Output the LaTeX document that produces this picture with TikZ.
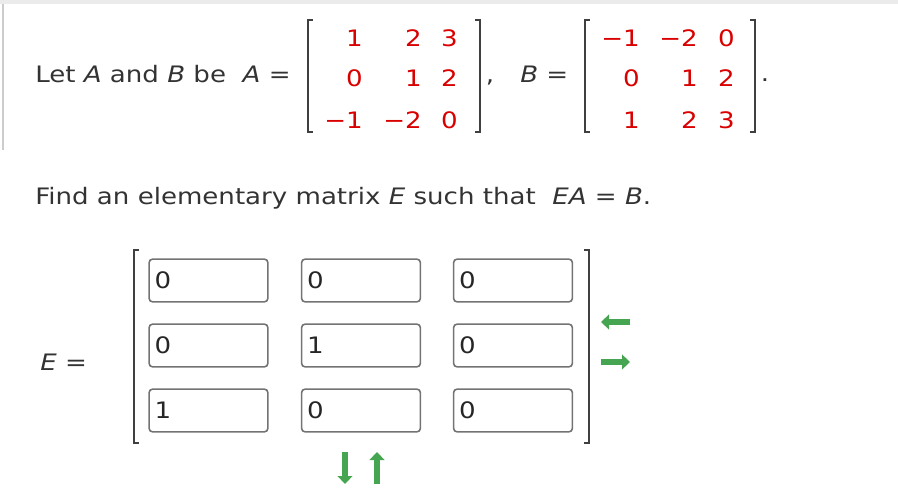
\documentclass[tikz,border=0pt]{standalone}
\usepackage{fontspec}
\setmainfont[FakeStretch=1.15]{DejaVu Sans}
\usetikzlibrary{arrows.meta}
\definecolor{gr}{RGB}{70,165,80}
\begin{document}
\begin{tikzpicture}[x=0.75pt,y=-0.75pt,
  txt/.style={font=\fontsize{17}{20}\selectfont,text=black!80,inner sep=0pt},
  num/.style={font=\fontsize{17}{20}\selectfont,text=red!85!black,inner sep=0pt,anchor=east},
  brk/.style={line width=1.6pt,black!75},
  cell/.style={draw=black!55,line width=1.2pt,rounded corners=2.5pt,minimum width=89pt,minimum height=32pt,inner sep=0pt},
  cellt/.style={font=\fontsize{17}{20}\selectfont,text=black!85,inner sep=0pt,anchor=west},
  garrow/.style={line width=4.5pt,gr,-{Triangle[width=11pt,length=6pt]}}]
\useasboundingbox (0,0) rectangle (898,498);
\fill[black!8] (0,0) rectangle (898,4);
\draw[black!20,line width=1pt] (3,4) -- (3,150);
% first line
\node[txt,anchor=west] (let) at (35,74) {Let \textit{A} and \textit{B} be\ \ \textit{A} =};
\draw[brk] (313,20) -- (308,20) -- (308,132) -- (313,132);
\draw[brk] (475,20) -- (480,20) -- (480,132) -- (475,132);
\node[num] (a11) at (363,38) {1};
\node[num] (a12) at (422,38) {2};
\node[num] (a13) at (458,38) {3};
\node[num] (a21) at (363,78) {0};
\node[num] (a22) at (422,78) {1};
\node[num] (a23) at (458,78) {2};
\node[num] (a31) at (363,120) {−1};
\node[num] (a32) at (422,120) {−2};
\node[num] (a33) at (458,120) {0};
\node[txt] (comma) at (490,82) {,};
\node[txt,anchor=west] (beq) at (520,74) {\textit{B} =};
\draw[brk] (590,20) -- (585,20) -- (585,132) -- (590,132);
\draw[brk] (750,20) -- (755,20) -- (755,132) -- (750,132);
\node[num] (b11) at (640,38) {−1};
\node[num] (b12) at (698,38) {−2};
\node[num] (b13) at (735,38) {0};
\node[num] (b21) at (640,78) {0};
\node[num] (b22) at (698,78) {1};
\node[num] (b23) at (735,78) {2};
\node[num] (b31) at (640,120) {1};
\node[num] (b32) at (698,120) {2};
\node[num] (b33) at (735,120) {3};
\node[txt] (dot) at (765,80) {.};
% second line
\node[txt,anchor=west] (find) at (35,198) {Find an elementary matrix \textit{E} such that\ \ \textit{EA} = \textit{B}.};
% E matrix
\node[txt,anchor=west] (eeq) at (40,362) {\textit{E} =};
\draw[brk] (139,250) -- (134,250) -- (134,443) -- (139,443);
\draw[brk] (584,250) -- (589,250) -- (589,443) -- (584,443);
\foreach \r/\y in {1/280.5,2/345.5,3/410.5}{
  \foreach \c/\x in {1/208.5,2/361,3/513}{
    \node[cell] (c\r\c) at (\x,\y) {};
  }
}
\node[cellt] at ([xshift=4.5pt]c11.west) {0};
\node[cellt] at ([xshift=4.5pt]c12.west) {0};
\node[cellt] at ([xshift=4.5pt]c13.west) {0};
\node[cellt] at ([xshift=4.5pt]c21.west) {0};
\node[cellt] at ([xshift=4.5pt]c22.west) {1};
\node[cellt] at ([xshift=4.5pt]c23.west) {0};
\node[cellt] at ([xshift=4.5pt]c31.west) {1};
\node[cellt] at ([xshift=4.5pt]c32.west) {0};
\node[cellt] at ([xshift=4.5pt]c33.west) {0};
% green arrows
\coordinate (l1) at (630,322); \coordinate (l2) at (601,322);
\coordinate (r1) at (601,362); \coordinate (r2) at (630,362);
\coordinate (d1) at (345,452); \coordinate (d2) at (345,484);
\coordinate (u1) at (377,484); \coordinate (u2) at (377,452);
\draw[garrow] (l1) -- (l2);
\draw[garrow] (r1) -- (r2);
\draw[garrow] (d1) -- (d2);
\draw[garrow] (u1) -- (u2);
\end{tikzpicture}
\end{document}
